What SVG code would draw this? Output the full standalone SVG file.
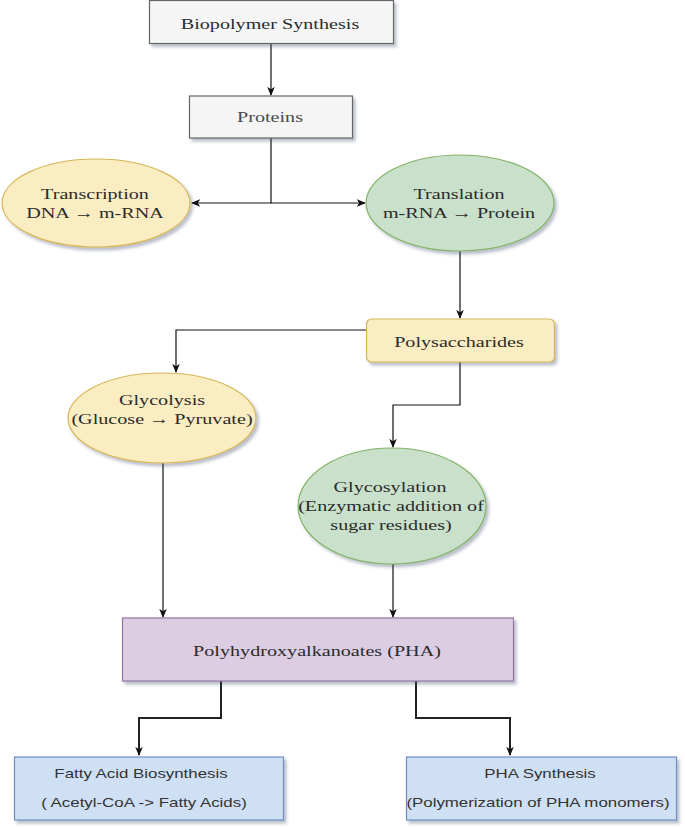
<svg xmlns="http://www.w3.org/2000/svg" width="685" height="828" viewBox="0 0 685 828">
<defs>
<filter id="sh" x="-10%" y="-10%" width="130%" height="140%">
<feDropShadow dx="2.5" dy="3" stdDeviation="1.6" flood-color="#3a4a6a" flood-opacity="0.35"/>
</filter>
<marker id="arr" viewBox="0 0 10 10" refX="9" refY="5" markerWidth="9" markerHeight="9" orient="auto" markerUnits="userSpaceOnUse">
<path d="M0,0.8 L10,5 L0,9.2 L2.5,5 z" fill="#111"/>
</marker>
</defs>
<style>
.gray{fill:#f5f5f5;stroke:#666666;stroke-width:1.2}
.yel{fill:#fbedc2;stroke:#d6b656;stroke-width:1.2}
.grn{fill:#c9e0cb;stroke:#82b366;stroke-width:1.2}
.pur{fill:#dccde3;stroke:#9673a6;stroke-width:1.2}
.blu{fill:#d0e0f4;stroke:#6c8ebf;stroke-width:1.2}
.s{font-family:"Liberation Serif","Times New Roman",serif;font-size:15.5px;fill:#2b2b2b;text-anchor:middle}
.a{font-family:"Liberation Sans",Arial,sans-serif;font-size:12.5px;fill:#333333;text-anchor:middle}
.c{fill:none;stroke:#111;stroke-width:1.2}
.c2{fill:none;stroke:#222;stroke-width:2}
</style>
<rect width="685" height="828" fill="#ffffff"/>
<g id="connectors">
<path class="c" d="M271,44 V95" marker-end="url(#arr)"/>
<path class="c" d="M271,138 V203 H192" marker-end="url(#arr)"/>
<path class="c" d="M271,203 H365" marker-end="url(#arr)"/>
<path class="c" d="M460,251 V318" marker-end="url(#arr)"/>
<path class="c" d="M366,330 H176 V372" marker-end="url(#arr)"/>
<path class="c" d="M460,362 V405 H393 V447" marker-end="url(#arr)"/>
<path class="c" d="M163,463 V617" marker-end="url(#arr)"/>
<path class="c" d="M393,564 V617" marker-end="url(#arr)"/>
<path class="c2" d="M221,681 V718 H139 V755" marker-end="url(#arr)"/>
<path class="c2" d="M416,681 V718 H510 V755" marker-end="url(#arr)"/>
</g>
<g id="biopolymer">
<rect class="gray" x="149.5" y="0.5" width="244" height="43" filter="url(#sh)"/>
<text class="s" transform="translate(270 29) scale(1.3 1)">Biopolymer Synthesis</text>
</g>
<g id="proteins">
<rect class="gray" x="189.5" y="96" width="163" height="42" filter="url(#sh)"/>
<text class="s" style="fill:#4a4a4a" transform="translate(270 122) scale(1.3 1)">Proteins</text>
</g>
<g id="transcription">
<ellipse class="yel" cx="96" cy="203" rx="94" ry="44" filter="url(#sh)"/>
<text class="s" transform="translate(95 199) scale(1.3 1)">Transcription</text>
<text class="s" transform="translate(95 218) scale(1.3 1)">DNA → m-RNA</text>
</g>
<g id="translation">
<ellipse class="grn" cx="460" cy="203" rx="94" ry="48" filter="url(#sh)"/>
<text class="s" transform="translate(459 199) scale(1.3 1)">Translation</text>
<text class="s" transform="translate(459 218) scale(1.3 1)">m-RNA → Protein</text>
</g>
<g id="polysaccharides">
<rect class="yel" x="366.5" y="319" width="188" height="43" rx="5" filter="url(#sh)"/>
<text class="s" transform="translate(459 347) scale(1.3 1)">Polysaccharides</text>
</g>
<g id="glycolysis">
<ellipse class="yel" cx="162" cy="418" rx="94" ry="45" filter="url(#sh)"/>
<text class="s" transform="translate(162 405) scale(1.3 1)">Glycolysis</text>
<text class="s" transform="translate(162 424) scale(1.3 1)">(Glucose → Pyruvate)</text>
</g>
<g id="glycosylation">
<ellipse class="grn" cx="392" cy="506" rx="94" ry="58" filter="url(#sh)"/>
<text class="s" transform="translate(390 492) scale(1.3 1)">Glycosylation</text>
<text class="s" transform="translate(391 511) scale(1.3 1)">(Enzymatic addition of</text>
<text class="s" transform="translate(391 530) scale(1.3 1)">sugar residues)</text>
</g>
<g id="pha">
<rect class="pur" x="122.5" y="618" width="391" height="63" filter="url(#sh)"/>
<text class="s" transform="translate(317 656) scale(1.3 1)">Polyhydroxyalkanoates (PHA)</text>
</g>
<g id="fatty-acid">
<rect class="blu" x="14.5" y="757" width="269" height="63" filter="url(#sh)"/>
<text class="a" transform="translate(141 778) scale(1.35 1)">Fatty Acid Biosynthesis</text>
<text class="a" transform="translate(144 807) scale(1.35 1)">( Acetyl-CoA -&gt; Fatty Acids)</text>
</g>
<g id="pha-synthesis">
<rect class="blu" x="406.5" y="757" width="270" height="63" filter="url(#sh)"/>
<text class="a" transform="translate(540 778) scale(1.35 1)">PHA Synthesis</text>
<text class="a" transform="translate(538 807) scale(1.35 1)">(Polymerization of PHA monomers)</text>
</g>
</svg>
